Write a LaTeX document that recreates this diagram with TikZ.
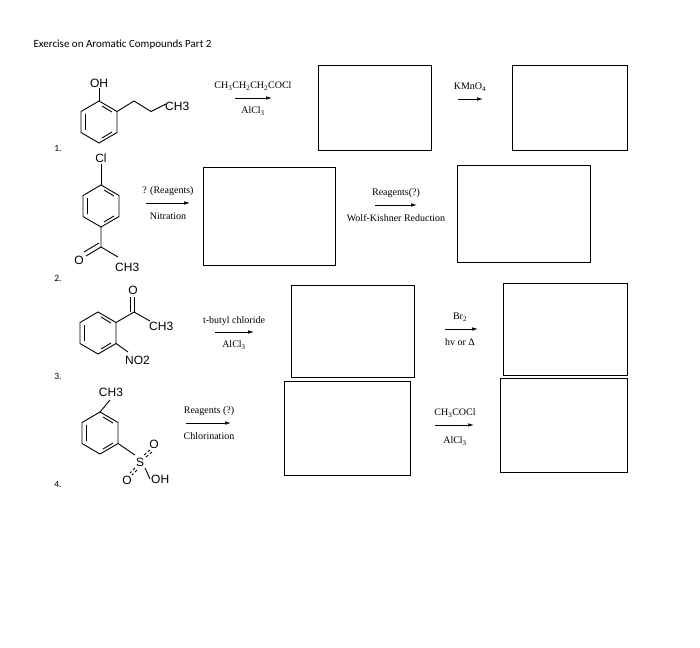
\documentclass[tikz,border=0pt]{standalone}
\usepackage{fontspec}
\setmainfont{Liberation Serif}
\newfontfamily\calfont{Carlito}
\newfontfamily\arial{Liberation Sans}
\usetikzlibrary{arrows.meta}
\newcommand{\myring}[2]{%
 \draw[bond] (#1,#2-21) -- (#1+18,#2-10.5) -- (#1+18,#2+10.5) -- (#1,#2+21) -- (#1-18,#2+10.5) -- (#1-18,#2-10.5) -- cycle;
 \draw[bond] (#1+3,#2-16) -- (#1+13,#2-10) (#1+3,#2+16) -- (#1+13,#2+10) (#1-13.5,#2+8) -- (#1-13.5,#2-8);}
\begin{document}
\begin{tikzpicture}[x=1pt,y=-1pt,
  bx/.style={draw,line width=0.8pt},
  bond/.style={line width=0.9pt},
  lab/.style={font=\fontsize{10}{11}\selectfont,inner sep=1pt},
  atm/.style={font=\arial\fontsize{12}{13}\selectfont,inner sep=1pt},
  num/.style={font=\calfont\fontsize{9.5}{10}\selectfont},
  rx/.style={-{Latex[length=6pt,width=3.5pt]},line width=0.7pt}]
\useasboundingbox (0,0) rectangle (700,647);
\node[font=\calfont\fontsize{11}{12}\selectfont,anchor=west] (title) at (30,45) {Exercise on Aromatic Compounds Part 2};
\foreach \n/\y in {1/148,2/278,3/376,4/484}{\node[num] (n\n) at (58,\y) {\n.};}
% molecule 1
\myring{99}{122}
\node[atm] (oh1) at (99,83) {OH};
\draw[bond] (99,101) -- (oh1);
\draw[bond] (117,111.5) -- (134,101) -- (151,111.5) -- (166,104);
\node[atm,anchor=west] (ch31) at (164,106) {CH3};
% molecule 2
\myring{101}{206}
\node[atm] (cl2) at (101,158) {Cl};
\draw[bond] (101,185) -- (cl2);
\draw[bond] (101,227) -- (101,247) -- (118,257);
\draw[bond] (101,247) -- (86,256) (99,243) -- (84,252);
\node[atm] (o2) at (79,260) {O};
\node[atm,anchor=west] (ch32) at (114,267) {CH3};
% molecule 3
\myring{98}{333}
\draw[bond] (116,322.5) -- (134,312) -- (150,321);
\draw[bond] (134,312) -- (134,297) (130,312) -- (130,297);
\node[atm] (o3) at (133,290) {O};
\node[atm,anchor=west] (ch33) at (148,326) {CH3};
\draw[bond] (116,343.5) -- (128,352);
\node[atm,anchor=west] (no3) at (124,360) {NO2};
% molecule 4
\myring{100}{433}
\draw[bond] (100,412) -- (110,400);
\node[atm] (ch34) at (111,392) {CH3};
\draw[bond] (118,443.5) -- (135,455);
\node[atm] (s4) at (140,462) {S};
\node[atm] (o4a) at (154,444) {O};
\node[atm] (o4b) at (127,480) {O};
\node[atm,anchor=west] (oh4) at (150,479) {OH};
\draw[bond,densely dashed] (144,455) -- (150,450) (146,457) -- (152,452);
\draw[bond,densely dashed] (135,468) -- (130,473) (137,470) -- (132,475);
\draw[bond] (145,468) -- (oh4.west);
% boxes
\node[bx,minimum width=113,minimum height=85] (b1a) at (374.5,107.5) {};
\node[bx,minimum width=115,minimum height=85] (b1b) at (569.5,107.5) {};
\node[bx,minimum width=132,minimum height=98] (b2a) at (269,216) {};
\node[bx,minimum width=133,minimum height=97] (b2b) at (523.5,213.5) {};
\node[bx,minimum width=123,minimum height=92] (b3a) at (352.5,331) {};
\node[bx,minimum width=124,minimum height=92] (b3b) at (565,329) {};
\node[bx,minimum width=126,minimum height=94] (b4a) at (347,428) {};
\node[bx,minimum width=127,minimum height=94] (b4b) at (563.5,425) {};
% arrows
\coordinate (a1s) at (235,98); \coordinate (a1e) at (272,98);
\draw[rx] (a1s) -- (a1e);
\node[lab] (l1a) at (253,86) {CH\textsubscript{3}CH\textsubscript{2}CH\textsubscript{2}COCl};
\node[lab] (l1b) at (253,111) {AlCl\textsubscript{3}};
\coordinate (a2s) at (458,99); \coordinate (a2e) at (483,99);
\draw[rx] (a2s) -- (a2e);
\node[lab] (l2a) at (470,87) {KMnO\textsubscript{4}};
\coordinate (a3s) at (146,203); \coordinate (a3e) at (190,203);
\draw[rx] (a3s) -- (a3e);
\node[lab] (l3a) at (168,191) {? (Reagents)};
\node[lab] (l3b) at (168,216) {Nitration};
\coordinate (a4s) at (375,205); \coordinate (a4e) at (417,205);
\draw[rx] (a4s) -- (a4e);
\node[lab] (l4a) at (396,193) {Reagents(?)};
\node[lab] (l4b) at (396,218) {Wolf-Kishner Reduction};
\coordinate (a5s) at (215,332); \coordinate (a5e) at (254,332);
\draw[rx] (a5s) -- (a5e);
\node[lab] (l5a) at (234,321) {t-butyl chloride};
\node[lab] (l5b) at (234,345) {AlCl\textsubscript{3}};
\coordinate (a6s) at (445,329); \coordinate (a6e) at (478,329);
\draw[rx] (a6s) -- (a6e);
\node[lab] (l6a) at (460,317) {Br\textsubscript{2}};
\node[lab] (l6b) at (460,342) {hv or Δ};
\coordinate (a7s) at (186,423); \coordinate (a7e) at (231,423);
\draw[rx] (a7s) -- (a7e);
\node[lab] (l7a) at (209,411) {Reagents (?)};
\node[lab] (l7b) at (209,436) {Chlorination};
\coordinate (a8s) at (435,425); \coordinate (a8e) at (474,425);
\draw[rx] (a8s) -- (a8e);
\node[lab] (l8a) at (455,413) {CH\textsubscript{3}COCl};
\node[lab] (l8b) at (455,441) {AlCl\textsubscript{3}};
\end{tikzpicture}
\end{document}
